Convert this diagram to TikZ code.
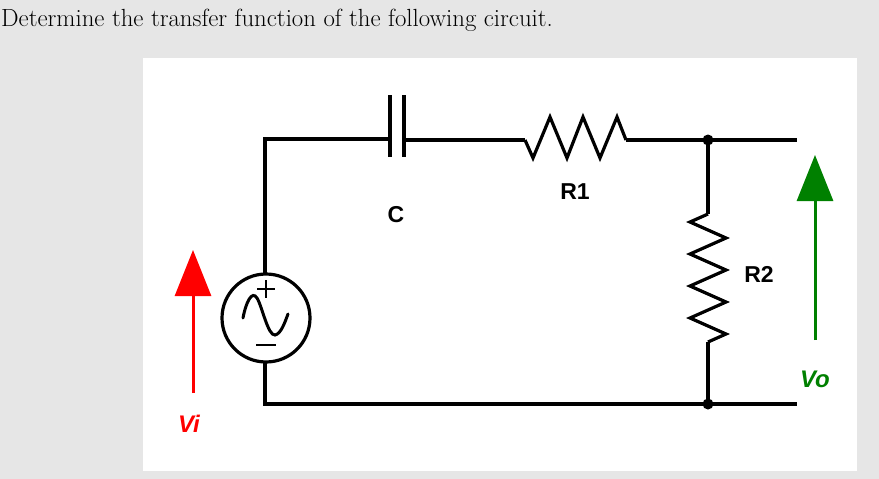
\documentclass[tikz,border=0pt]{standalone}
\usepackage{fontspec}
\newfontfamily\labelfont{Liberation Sans}
\usetikzlibrary{arrows.meta}
\definecolor{bggray}{HTML}{E6E6E6}
\definecolor{vgreen}{HTML}{008000}
\begin{document}
\begin{tikzpicture}[x=1pt,y=1pt,yscale=-1,xscale=1,
  wire/.style={line width=3.2pt},
  lbl/.style={font=\labelfont\bfseries\fontsize{23}{23}\selectfont}]
\fill [bggray] (0,0) rectangle (879,479);
\useasboundingbox (0,0) rectangle (879,479);
\fill [white] (143,58) rectangle (857,471);

% Text Node
\node (title) [anchor=west,inner sep=0pt,font=\fontsize{24.8}{24.8}\selectfont] at (1,20) {Determine the transfer function of the following circuit.};

% corners
\coordinate (tl) at (265,139);
\coordinate (bl) at (265,404);
\coordinate (ca) at (390,139);
\coordinate (cb) at (404,139);
\coordinate (ra) at (525,140);
\coordinate (rb) at (626,140);
\coordinate (nt) at (708,140);
\coordinate (nb) at (708,404);
\coordinate (ot) at (797,140);
\coordinate (ob) at (797,404);
\coordinate (sa) at (265,273);
\coordinate (sb) at (265,363);

% wires
\draw [wire] (sa) -- (tl) -- (ca);
\draw [wire] (cb) -- (404,140) -- (ra);
\draw [wire] (rb) -- (ot);
\draw [wire] (sb) -- (bl) -- (ob);
\draw [wire] (nt) -- (708,214);
\draw [wire] (708,342) -- (nb);
% capacitor
\draw [wire] (390,95) -- (390,157);
\draw [wire] (404,95) -- (404,157);
% R1
\draw [wire,line join=miter] (ra) -- (533,158) -- (550,117) -- (567,158) -- (583,117) -- (600,158) -- (617,117) -- (rb);
% R2
\draw [wire,line join=miter] (708,214) -- (690,222) -- (726,238) -- (690,254) -- (726,270) -- (690,286) -- (726,302) -- (690,318) -- (726,334) -- (708,342);
\fill (nt) circle (5.5);
\fill (nb) circle (5.5);
% source
\draw [wire] (266,318) circle (44);
\draw [line width=3pt,line cap=round] (243,318) .. controls (246,302) and (252,290) .. (257,298) .. controls (262,306) and (268,336) .. (275,335) .. controls (281,334) and (285,322) .. (288,314);
\draw [line width=2.6pt] (266,280) -- (266,298) (257,289) -- (275,289);
\draw [line width=2.6pt] (256,345) -- (276,345);

% labels
\node (lc) [lbl] at (396,215) {C};
\node (lr1) [lbl] at (575,192) {R1};
\node (lr2) [lbl] at (759,274) {R2};

% arrows
\coordinate (vi0) at (193,393);
\coordinate (vi1) at (193,250);
\draw [line width=3pt,red,-{Triangle[length=46pt,width=36pt]}] (vi0) -- (vi1);
\node (vi) [lbl,red,font=\labelfont\bfseries\itshape\fontsize{24}{24}\selectfont] at (189,424) {Vi};
\coordinate (vo0) at (815,340);
\coordinate (vo1) at (815,155);
\draw [line width=3pt,vgreen,-{Triangle[length=46pt,width=36pt]}] (vo0) -- (vo1);
\node (vo) [lbl,vgreen,font=\labelfont\bfseries\itshape\fontsize{24}{24}\selectfont] at (815,379) {Vo};
\end{tikzpicture}
\end{document}
